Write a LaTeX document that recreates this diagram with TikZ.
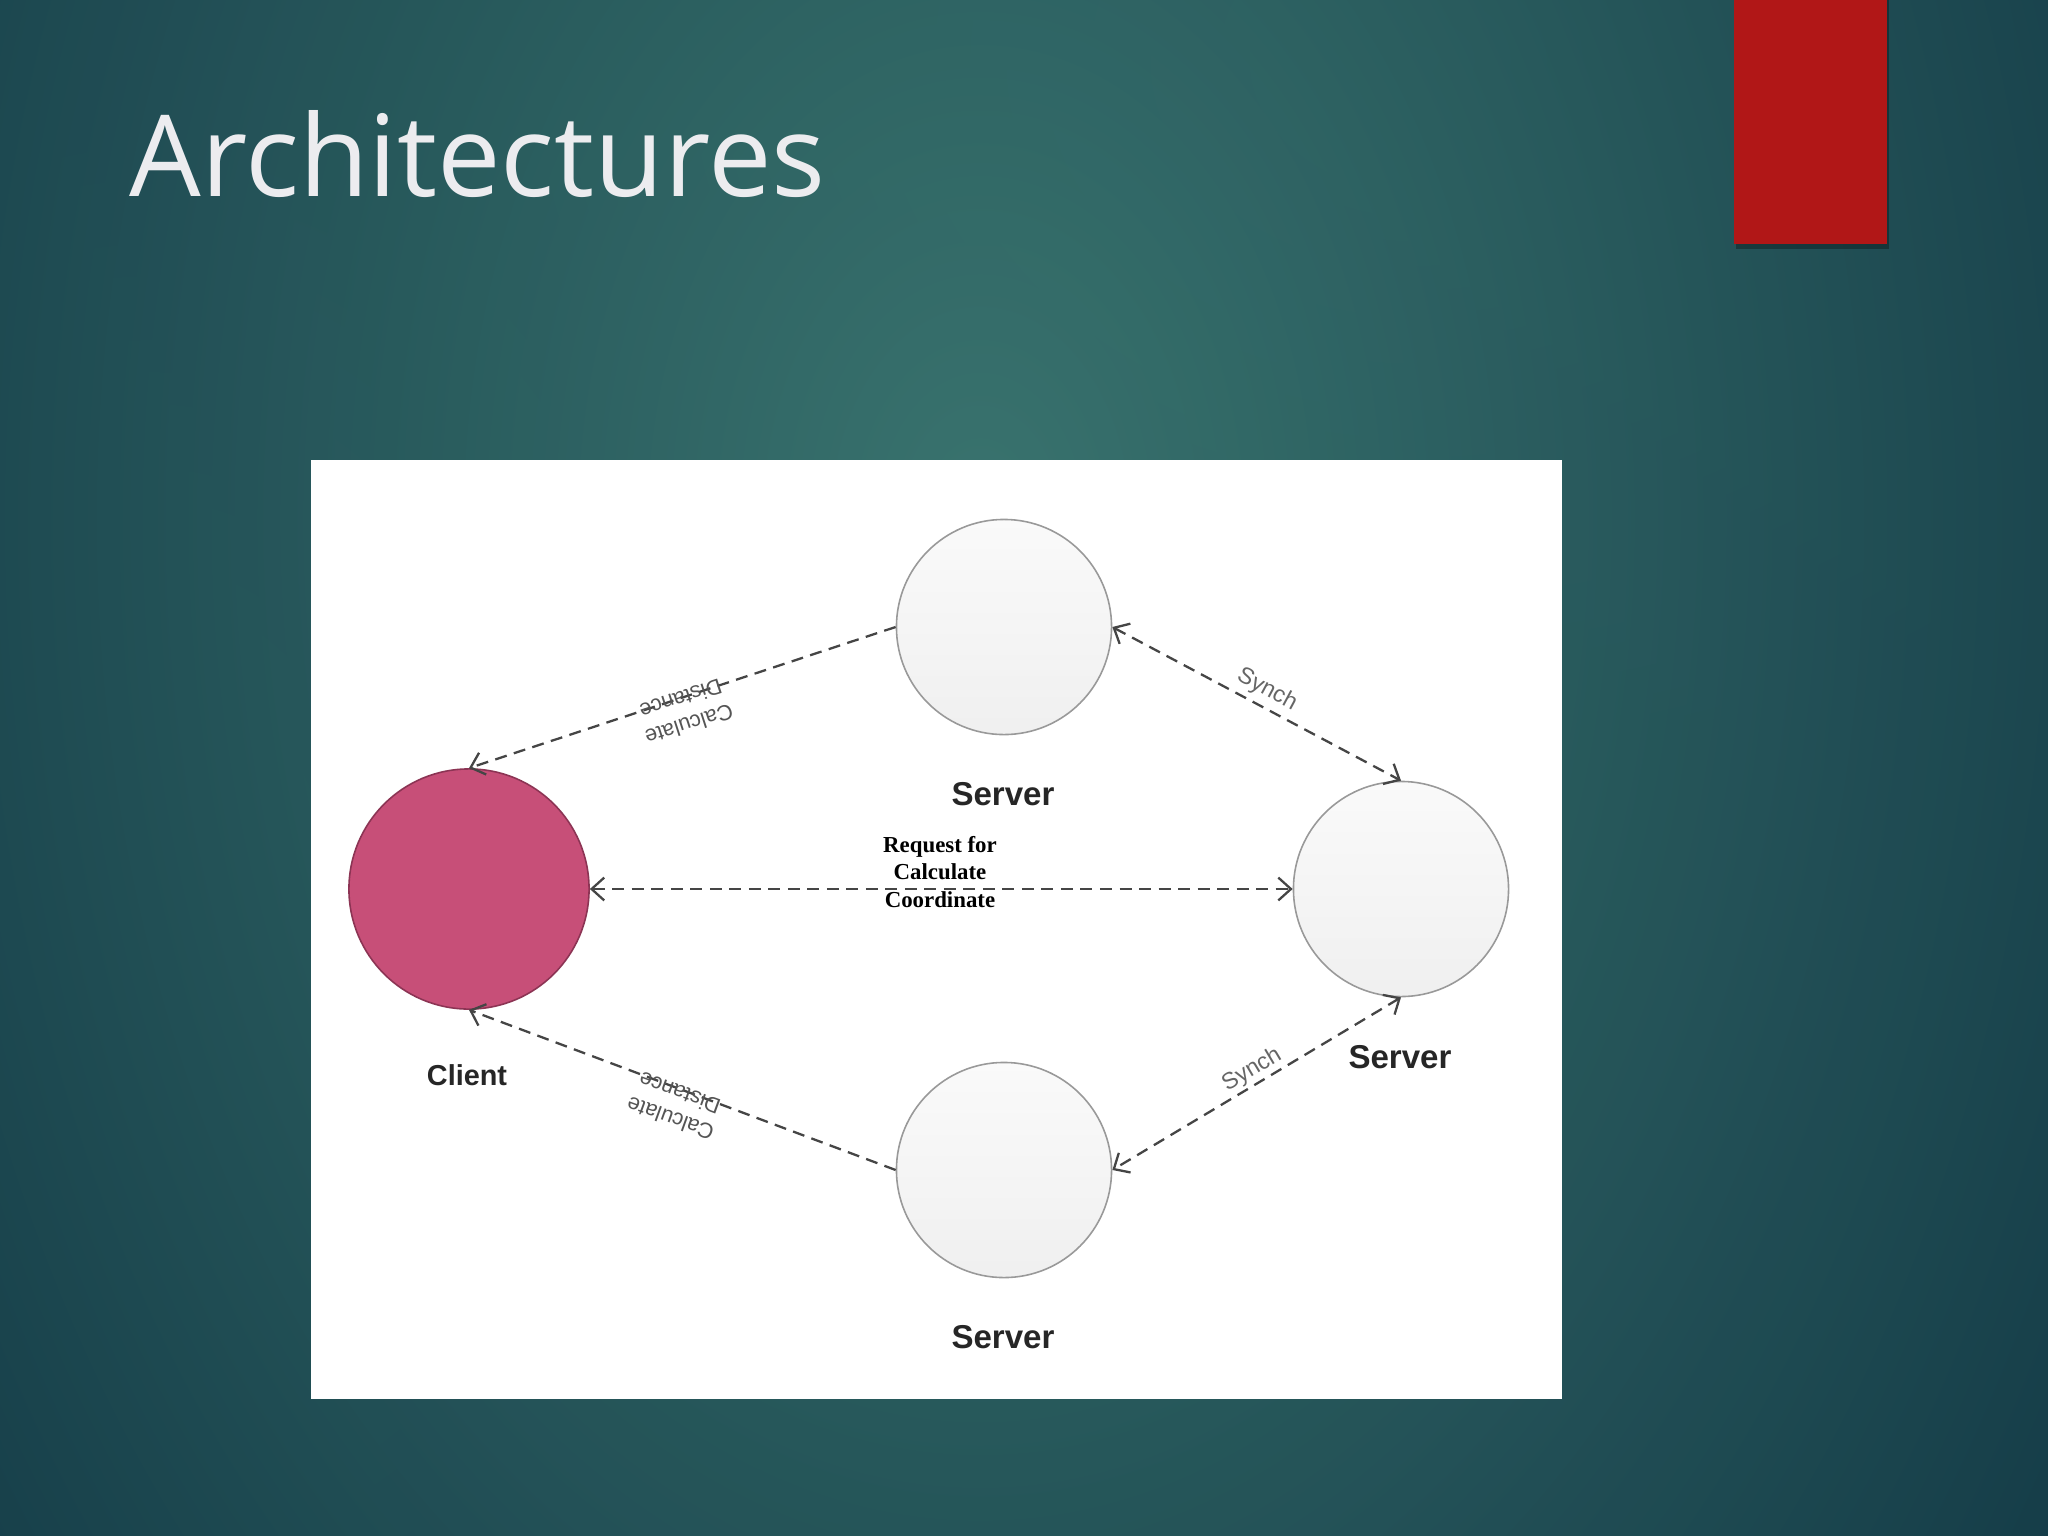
\documentclass[tikz,border=0pt]{standalone}
\usepackage{fontspec}
\setmainfont{Liberation Sans}
\newfontfamily\titlefont{Open Sans}
\newfontfamily\timesfont{Liberation Serif}
\usetikzlibrary{arrows.meta}
\definecolor{bgdark}{HTML}{133946}
\definecolor{bgmid}{HTML}{20525B}
\definecolor{bglight}{HTML}{3B7670}
\definecolor{bgblue}{HTML}{22565F}
\definecolor{redbar}{HTML}{B11717}
\definecolor{clientfill}{HTML}{C74F78}
\definecolor{clientedge}{HTML}{8C3454}
\definecolor{titlegray}{HTML}{ECECEF}
\definecolor{linegray}{HTML}{454545}
\definecolor{labelgray}{HTML}{555555}
\tikzset{
  srv/.style={circle, draw=black!40, line width=0.45pt, minimum size=2.15cm, inner sep=0pt, top color=black!2, bottom color=black!6},
  cli/.style={circle, draw=clientedge, line width=0.45pt, fill=clientfill, minimum size=2.4cm, inner sep=0pt},
  conn/.style={dash pattern=on 0.12cm off 0.075cm, line width=0.65pt, draw=linegray},
  biarrow/.style={conn, {Straight Barb[length=3.6pt,width=6.5pt]}-{Straight Barb[length=3.6pt,width=6.5pt]}},
  onearrow/.style={conn, -{Straight Barb[length=3.6pt,width=6.5pt]}},
  boldlbl/.style={font=\bfseries\fontsize{9.4}{11}\selectfont, text=black!85, inner sep=0pt},
  edgelbl/.style={font=\fontsize{6.2}{7.7}\selectfont, text=labelgray, inner sep=0pt, align=center},
  synchlbl/.style={font=\fontsize{6.6}{8}\selectfont, text=labelgray!90, inner sep=0pt},
  reqlbl/.style={font=\timesfont\bfseries\fontsize{6.5}{7.7}\selectfont, text=black, inner sep=0pt, align=center}
}
\begin{document}
\begin{tikzpicture}[x=0.01cm,y=-0.01cm]
\useasboundingbox (0,0) rectangle (2048,1536);
% background
\fill[bgdark] (0,0) rectangle (2048,1536);
\begin{scope}
  \clip (0,0) rectangle (2048,1536);
  \shade[inner color=bgblue, outer color=bgdark] (1420,60) ellipse [x radius=900, y radius=700];
  \shade[inner color=bgmid, outer color=bgdark, opacity=0.7] (150,900) ellipse [x radius=600, y radius=800];
  \shade[inner color=bglight, outer color=bgdark, opacity=0.95] (980,520) ellipse [x radius=1400, y radius=2000];
\end{scope}
% title
\node[anchor=base west, font=\titlefont\fontsize{32.2}{36}\selectfont, text=titlegray, inner sep=0pt] (title) at (129,196) {Architectures};
% red bar with shadow
\fill[black, opacity=0.3] (1736,0) rectangle (1889,249);
\fill[redbar] (1734,0) rectangle (1887,244);
% white panel
\fill[white] (311,460) rectangle (1562,1399);
% nodes
\node[cli] (client) at (469,889) {};
\node[srv] (top) at (1004,627) {};
\node[srv] (right) at (1401,889) {};
\node[srv] (bot) at (1004,1170) {};
% node labels
\node[boldlbl] (ltop) at (1003,794) {Server};
\node[boldlbl] (lright) at (1400,1057) {Server};
\node[boldlbl] (lbot) at (1003,1337) {Server};
\node[boldlbl, font=\bfseries\fontsize{8.2}{10}\selectfont] (lclient) at (467,1075) {Client};
% connectors
\draw[onearrow] (top.west) -- (client.north);
\draw[onearrow] (bot.west) -- (client.south);
\draw[biarrow] (top.east) -- (right.north);
\draw[biarrow] (right.south) -- (bot.east);
\draw[biarrow] (client.east) -- (right.west);
% edge labels
\node[edgelbl, rotate=198] (calc1) at (685,712) {Calculate\\Distance};
\node[edgelbl, rotate=160] (calc2) at (675,1106) {Calculate\\Distance};
\node[synchlbl, rotate=-28.4] (synch1) at (1267,690) {Synch};
\node[synchlbl, rotate=30.8] (synch2) at (1252,1070) {Synch};
\node[reqlbl] (req) at (940,872) {Request for\\Calculate\\Coordinate};
\end{tikzpicture}
\end{document}
